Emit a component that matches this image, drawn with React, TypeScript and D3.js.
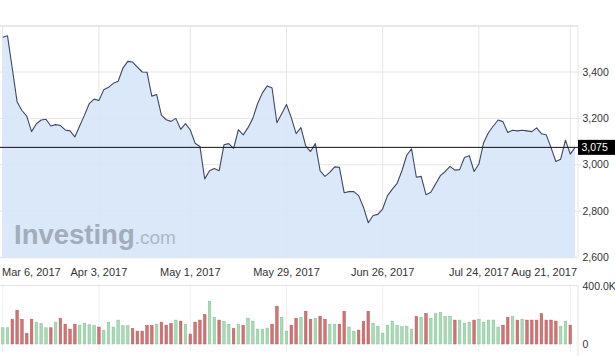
import React from "react";
import * as d3 from "d3";

const prices: number[] = [
  3550, 3556, 3414, 3271, 3234, 3210, 3143, 3177, 3193, 3196,
  3167, 3173, 3169, 3150, 3146, 3120, 3167, 3214, 3264, 3283,
  3277, 3323, 3334, 3351, 3360, 3417, 3446, 3443, 3421, 3400,
  3399, 3296, 3303, 3214, 3194, 3187, 3200, 3153, 3177, 3150,
  3093, 3079, 2939, 2974, 2984, 2974, 3086, 3091, 3071, 3151,
  3129, 3160, 3200, 3264, 3310, 3340, 3331, 3181, 3220, 3260,
  3203, 3134, 3160, 3081, 3057, 3091, 2974, 2950, 2967, 2991,
  2989, 2879, 2884, 2884, 2867, 2817, 2750, 2781, 2786, 2810,
  2867, 2895, 2920, 2974, 3041, 3069, 2946, 2950, 2871, 2881,
  2917, 2953, 2971, 2993, 2977, 2979, 3031, 3039, 2971, 3003,
  3096, 3139, 3167, 3193, 3186, 3139, 3149, 3146, 3149, 3146,
  3143, 3159, 3134, 3129, 3074, 3014, 3024, 3106, 3046, 3075,
];

// volume in thousands
const volumes: number[] = [
  112, 112, 171, 233, 171, 73, 171, 151, 142, 112, 112, 151, 178, 137, 103, 137, 130, 144, 133, 126,
  117, 96, 151, 117, 165, 126, 126, 107, 89, 89, 128, 128, 137, 151, 130, 142, 165, 158, 137, 69,
  151, 165, 203,
  295, 185, 165, 155, 137, 107, 137, 128, 178, 158, 103, 103, 110, 137, 261, 185, 89, 130, 178, 185,
  226, 171, 178, 192, 171, 137, 137, 137, 226, 117, 89, 96, 155, 226, 144, 123, 75, 130, 158, 130, 119,
  123, 103, 190, 185, 210, 178, 210, 219, 192, 192, 165, 165, 144, 151, 165, 171, 151, 165, 165, 117,
  130, 185, 192, 165, 171, 165, 165, 165, 210, 165, 165, 158, 123, 158, 130,
];

// u = up (green), d = down (red)
const dirA = ["u","u","d","d","d","d","d","u","u","u","d","u","d","d","d","d","u","u","u","u","d","u","u","u","u","u","u","d","d","d","d","d","u","d","d","d","u","d","u","d","d","d","d"];
const dirB = ["u","u","d","u","u","d","u","d","u","u","u","u","u","d","d","u","u","d","d","u","d","d","u","d","d","u","u","d","d","u","u","d","d","d","u","u","u","u","u","u","u"];
const dirC = ["u","u","d","u","d","u","u","u","u","u","d","u","u","u","d","u","u","u","u","u","d","d","u","d","u","d","d","d","d","d","d","d","u","u","d"];
const directions: string[] = [...dirA, ...dirB, ...dirC];

const tickIndexes: number[] = [0, 20, 39, 59, 79, 99, 118];
const tickLabels: string[] = ["Mar 6, 2017", "Apr 3, 2017", "May 1, 2017", "May 29, 2017", "Jun 26, 2017", "Jul 24, 2017", "Aug 21, 2017"];
const priceTicks: number[] = [3400, 3200, 3000, 2800, 2600];
const lastPrice = 3075;
const volumeTicks: number[] = [400, 0];

export default function App() {
  const W = 615, H = 356;
  const plotLeft = 0, plotRight = 578;
  const plotTop = 26, plotBottom = 257.5;
  const volTop = 286, volBottom = 344;

  const x = d3.scaleLinear().domain([0, 1]).range([2.7, 2.7 + 4.81]);
  const y = d3.scaleLinear().domain([2600, 3400]).range([257.5, 72]);
  const yv = d3.scaleLinear().domain([0, 400]).range([volBottom, volTop]);

  const line = d3.line<number>().x((_, i) => x(i)).y((d) => y(d));
  const area = d3.area<number>().x((_, i) => x(i)).y0(plotBottom).y1((d) => y(d));

  const font = "Arial, 'Liberation Sans', Helvetica, sans-serif";
  const gridColor = "#e6e6e6";
  const barW = 2.6;

  return (
    <svg width={W} height={H} style={{ position: "absolute", left: 0, top: 0, background: "#fff" }} fontFamily={font}>
      <rect x={plotLeft} y={25} width={plotRight - plotLeft} height={2} fill="#e8e8e8" />
      {priceTicks.slice(0, 4).map((t) => (
        <line key={t} x1={plotLeft} x2={plotRight + 4} y1={y(t)} y2={y(t)} stroke={gridColor} strokeWidth={1} />
      ))}
      {tickIndexes.map((ti) => (
        <line key={ti} x1={x(ti)} x2={x(ti)} y1={plotTop} y2={plotBottom} stroke={gridColor} strokeWidth={1} />
      ))}
      <line x1={plotRight} x2={plotRight} y1={plotTop} y2={plotBottom} stroke={gridColor} />
      <path d={area(prices) || ""} fill="#d6e5fa" fillOpacity={0.9} />
      <text x={14} y={244} fill="#a2acba">
        <tspan fontSize={27.5} fontWeight="bold">Investing</tspan>
        <tspan fontSize={19} fill="#aeb7c4">.com</tspan>
      </text>
      <path d={line(prices) || ""} fill="none" stroke="#3e4866" strokeWidth={1.1} strokeLinejoin="round" />
      <line x1={plotLeft} x2={plotRight} y1={y(lastPrice)} y2={y(lastPrice)} stroke="#111" strokeWidth={1} />
      <rect x={plotRight} y={y(lastPrice) - 7.5} width={W - plotRight} height={15} fill="#000" />
      <text x={plotRight + 3.5} y={y(lastPrice) + 3.6} fontSize={10.5} fill="#fff">{d3.format(",")(lastPrice)}</text>
      {priceTicks.map((t) => (
        <text key={t} x={582.5} y={y(t) + 3.7} fontSize={10.5} fill="#333">{d3.format(",")(t)}</text>
      ))}
      <line x1={plotLeft} x2={plotRight} y1={plotBottom} y2={plotBottom} stroke="#dfe5ec" strokeWidth={1.5} />
      {tickIndexes.map((ti, k) => {
        const first = k === 0;
        const last = k === tickIndexes.length - 1;
        const tx = first ? 2 : last ? plotRight - 1 : x(ti);
        const anchor = first ? "start" : last ? "end" : "middle";
        return (
          <text key={ti} x={tx} y={276} fontSize={11} fill="#333" textAnchor={anchor}>{tickLabels[k]}</text>
        );
      })}
      <line x1={plotLeft} x2={plotRight} y1={volTop - 0.5} y2={volTop - 0.5} stroke="#e3e3e3" />
      {tickIndexes.map((ti) => (
        <line key={"v" + ti} x1={x(ti)} x2={x(ti)} y1={volTop} y2={volBottom + 8} stroke="#eeeeee" />
      ))}
      <line x1={plotRight} x2={plotRight} y1={volTop} y2={H} stroke="#e3e3e3" />
      {volumes.map((v, i) => {
        const up = directions[i] === "u";
        return (
          <rect key={i} x={x(i) - barW / 2} y={yv(v)} width={barW} height={volBottom - yv(v)}
            fill={up ? "#a9dab6" : "#cf7474"} stroke={up ? "#84c296" : "#bb5858"} strokeWidth={0.5} />
        );
      })}
      {volumeTicks.map((t) => (
        <text key={t} x={582.5} y={yv(t) + 3.7} fontSize={10.5} fill="#333">{t === 0 ? "0" : d3.format(".1f")(t) + "K"}</text>
      ))}
    </svg>
  );
}
